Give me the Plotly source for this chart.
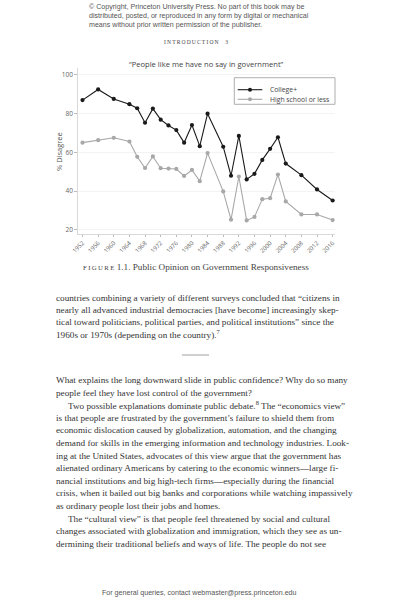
import plotly.graph_objects as go

years = [1952, 1956, 1960, 1964, 1966, 1968, 1970, 1972, 1974, 1976, 1978, 1980, 1982,
         1984, 1988, 1990, 1992, 1994, 1996, 1998, 2000, 2002, 2004, 2008, 2012, 2016]
college = [87.0, 92.5, 87.6, 84.9, 82.8, 75.3, 82.6, 76.9, 73.9, 71.5, 65.0, 74.1, 63.2,
           80.0, 62.9, 47.9, 68.5, 46.0, 48.9, 56.1, 61.8, 67.8, 54.2, 48.2, 40.8, 35.1]
high_school = [65.0, 66.3, 67.5, 65.6, 57.7, 51.9, 57.9, 51.8, 51.6, 51.4, 47.8, 50.9, 45.1,
               59.6, 39.8, 25.2, 47.5, 24.8, 26.6, 35.8, 36.3, 48.5, 34.6, 27.9, 27.9, 25.0]
x_ticks = list(range(1952, 2017, 4))
y_ticks = [20, 40, 60, 80, 100]
series_names = ["College+", "High school or less"]
series_colors = ["#1a1a1a", "#a8a8a8"]

W, H = 400, 604

def py(px):
    return 1 - px / H

def pxx(px):
    return px / W

fig = go.Figure()
for vals, name, col in zip([college, high_school], series_names, series_colors):
    fig.add_trace(go.Scatter(x=years, y=vals, mode="lines+markers", name=name,
                             line=dict(color=col, width=1.1),
                             marker=dict(color=col, size=4.2), showlegend=False,
                             hoverinfo="skip"))

fig.update_layout(
    width=W, height=H,
    margin=dict(l=0, r=0, t=0, b=0, autoexpand=False),
    paper_bgcolor="white", plot_bgcolor="white",
    showlegend=False, hovermode=False, dragmode=False,
    xaxis=dict(domain=[pxx(77.5), pxx(335)], range=[1950.72, 2016.6], automargin=False,
               tickvals=x_ticks, ticktext=[str(v) for v in x_ticks],
               tickangle=-45, ticks="outside", ticklen=2.5, tickcolor="#bbb",
               showline=True, linecolor="#cfcfcf", linewidth=0.8,
               showgrid=False, zeroline=False, fixedrange=True,
               tickfont=dict(family="Open Sans, sans-serif", size=6, color="#666")),
    yaxis=dict(domain=[py(234), py(68)], range=[17.78, 103.6], automargin=False,
               tickvals=y_ticks, ticks="outside", ticklen=2.5, tickcolor="#bbb",
               showline=True, linecolor="#cfcfcf", linewidth=0.8,
               showgrid=True, gridcolor="#f0f0f0", gridwidth=0.8, zeroline=False,
               fixedrange=True,
               tickfont=dict(family="Open Sans, sans-serif", size=6.5, color="#666")),
)

ann = []

def add_text(text, x, y, size, family, color="#333", xanchor="left", angle=0):
    ann.append(dict(text=text, x=pxx(x), y=py(y), xref="paper", yref="paper",
                    xanchor=xanchor, yanchor="middle", showarrow=False, textangle=angle,
                    font=dict(size=size, family=family, color=color)))

sans = "Liberation Sans, Arial, sans-serif"
serif = "Liberation Serif, Times New Roman, serif"
osans = "Open Sans, sans-serif"

# y-axis title
add_text("% Disagree", 59, 152, 7.5, osans, "#555", "center", -90)

# custom compact legend
fig.add_shape(type="rect", xref="paper", yref="paper", x0=pxx(234.3), x1=pxx(335),
              y0=py(104.3), y1=py(77.7), line=dict(color="#9a9a9a", width=0.8),
              fillcolor="white", layer="above")
for i, (name, col) in enumerate(zip(series_names, series_colors)):
    yy = 89.7 + i * 9.6
    fig.add_shape(type="line", xref="paper", yref="paper", x0=pxx(237.7), x1=pxx(262.3),
                  y0=py(yy), y1=py(yy), line=dict(color=col, width=1.1), layer="above")
    fig.add_shape(type="circle", xref="paper", yref="paper", x0=pxx(248), x1=pxx(252),
                  y0=py(yy + 2), y1=py(yy - 2), line=dict(color=col, width=0),
                  fillcolor=col, layer="above")
    add_text(name, 267.5, yy, 6.8, osans, "#444")

# header
header = ["© Copyright, Princeton University Press. No part of this book may be",
          "distributed, posted, or reproduced in any form by digital or mechanical",
          "means without prior written permission of the publisher."]
for i, line in enumerate(header):
    add_text(line, 87, 7.5 + i * 8.7, 7.1, sans, "#555")
add_text("I\u2009N\u2009T\u2009R\u2009O\u2009D\u2009U\u2009C\u2009T\u2009I\u2009O\u2009N\u2003\u20093",
         196, 41.7, 5.6, serif, "#444", "center")

# chart title
add_text("\u201cPeople like me have no say in government\u201d", 207, 64.5, 7.6, osans, "#444", "center")

# caption
add_text("<span style='font-size:6.8px'>F\u2009I\u2009G\u2009U\u2009R\u2009E</span> 1.1. "
         "Public Opinion on Government Responsiveness",
         195.5, 267.3, 9.2, serif, "#444", "center")

para1 = ["countries combining a variety of different surveys concluded that \u201ccitizens in",
         "nearly all advanced industrial democracies [have become] increasingly skep-",
         "tical toward politicians, political parties, and political institutions\u201d since the",
         "1960s or 1970s (depending on the country).<sup>7</sup>"]
for i, line in enumerate(para1):
    add_text(line, 54, 297.5 + i * 12.3, 9.2, serif, "#333")

para2 = [("What explains the long downward slide in public confidence? Why do so many", 0),
         ("people feel they have lost control of the government?", 0),
         ("Two possible explanations dominate public debate.<sup>8</sup> The \u201ceconomics view\u201d", 12),
         ("is that people are frustrated by the government\u2019s failure to shield them from", 0),
         ("economic dislocation caused by globalization, automation, and the changing", 0),
         ("demand for skills in the emerging information and technology industries. Look-", 0),
         ("ing at the United States, advocates of this view argue that the government has", 0),
         ("alienated ordinary Americans by catering to the economic winners\u2014large fi-", 0),
         ("nancial institutions and big high-tech firms\u2014especially during the financial", 0),
         ("crisis, when it bailed out big banks and corporations while watching impassively", 0),
         ("as ordinary people lost their jobs and homes.", 0),
         ("The \u201ccultural view\u201d is that people feel threatened by social and cultural", 12),
         ("changes associated with globalization and immigration, which they see as un-", 0),
         ("dermining their traditional beliefs and ways of life. The people do not see", 0)]
for i, (line, indent) in enumerate(para2):
    add_text(line, 54 + indent, 380 + i * 12.6, 9.2, serif, "#333")

add_text("For general queries, contact webmaster@press.princeton.edu", 199.5, 592.7, 7.1, sans, "#555", "center")

fig.update_layout(annotations=ann)
fig.add_shape(type="line", xref="paper", yref="paper", x0=pxx(182), x1=pxx(209),
              y0=py(355), y1=py(355), line=dict(color="#888", width=0.8))

fig.write_html("out.html",
               config={"displayModeBar": False, "staticPlot": True},
               post_script="document.body.style.margin='0';document.body.style.padding='0';")
